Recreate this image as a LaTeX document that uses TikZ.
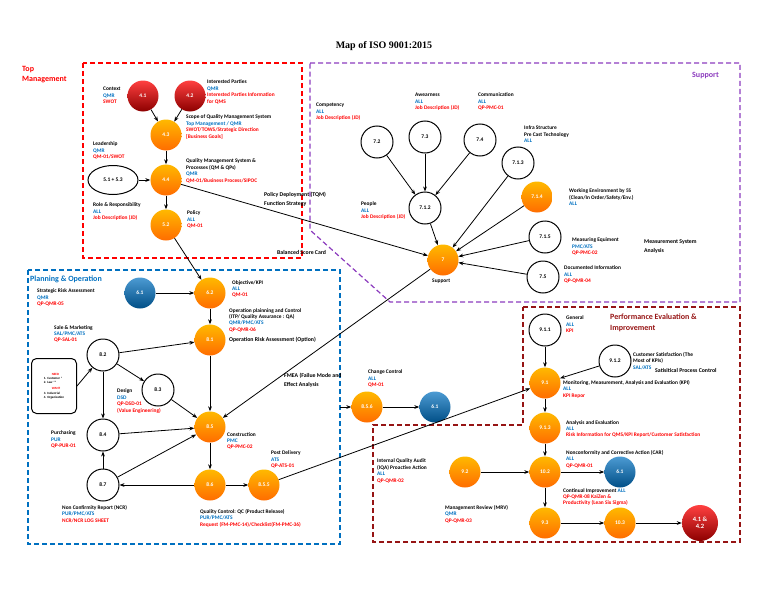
\documentclass[tikz,border=0pt]{standalone}
\usepackage{fontspec}
\setmainfont{Carlito}
\newfontfamily\ttlfont{Liberation Serif}
\usetikzlibrary{arrows.meta,shapes.geometric}
\definecolor{tb}{RGB}{0,112,192}
\definecolor{dr}{RGB}{150,20,20}
\definecolor{pu}{RGB}{140,60,190}
\newcommand{\B}[1]{\textcolor{tb}{#1}}
\newcommand{\R}[1]{\textcolor{red}{#1}}
\begin{document}
\begin{tikzpicture}[x=1pt,y=-1pt,
 lbl/.style={anchor=north west,align=left,inner sep=0,font=\fontsize{5.4}{6.4}\selectfont\bfseries},
 ball/.style={circle,minimum size=31,inner sep=0,text=white,font=\fontsize{5.5}{6}\selectfont\bfseries},
 org/.style={ball,top color=orange!55!yellow,bottom color=orange!85!red},
 rd/.style={ball,top color=red!75,bottom color=red!55!black},
 bl/.style={ball,top color=tb!70,bottom color=tb!70!black},
 wh/.style={circle,draw,line width=1pt,minimum size=32,inner sep=0,font=\fontsize{5.5}{6}\selectfont\bfseries},
 ar/.style={-{Stealth[length=5pt]},line width=0.8pt},
 ln/.style={line width=0.8pt}]
\useasboundingbox (0,0) rectangle (768,594);
\node[font=\fontsize{10}{11}\selectfont\bfseries\ttlfont] (title) at (384,46) {Map of ISO 9001:2015};
% boxes
\draw[red,dashed,line width=1.2pt,dash pattern=on 5pt off 3pt] (83,63) rectangle (302,258);
\draw[pu,line width=1.2pt,dash pattern=on 5pt off 3pt] (310,63) -- (740,63) -- (740,302) -- (390,302) -- (310,230) -- cycle;
\draw[tb,line width=1.2pt,dash pattern=on 5pt off 3pt] (28,270) rectangle (340,544);
\draw[dr,line width=1.2pt,dash pattern=on 5pt off 3pt] (523,307) -- (740,307) -- (740,542) -- (373,542) -- (373,425) -- (523,425) -- cycle;
\node[lbl,red,font=\fontsize{8}{10}\selectfont\bfseries] (tm) at (22,66) {Top\\Management};
\node[lbl,pu,font=\fontsize{8}{10}\selectfont\bfseries] (sup) at (692,72) {Support};
\node[lbl,tb,font=\fontsize{8}{10}\selectfont\bfseries] (po) at (30,276) {Planning \& Operation};
\node[lbl,dr,font=\fontsize{8}{11}\selectfont\bfseries] (pe) at (610,314) {Performance Evaluation \&\\Improvement};
% top management nodes
\node[rd] (n41) at (143,96) {4.1};
\node[rd] (n42) at (190,96) {4.2};
\node[org] (n43) at (166,135) {4.3};
\node[org] (n44) at (166,180) {4.4};
\node[draw,ellipse,line width=1pt,minimum width=50,minimum height=29,inner sep=0,font=\fontsize{5.5}{6}\selectfont\bfseries] (n51) at (113,180) {5.1 + 5.3};
\node[org] (n52) at (166,225) {5.2};
% support
\node[wh] (n72) at (377,142) {7.2};
\node[wh] (n73) at (425,137) {7.3};
\node[wh] (n74) at (480,140) {7.4};
\node[wh] (n713) at (518,163) {7.1.3};
\node[org] (n714) at (537,197) {7.1.4};
\node[wh] (n712) at (425,208) {7.1.2};
\node[wh] (n715) at (545,237) {7.1.5};
\node[org] (n7) at (443,260) {7};
\node[wh] (n75) at (543,277) {7.5};
% planning
\node[bl] (n61) at (140,293) {6.1};
\node[org] (n62) at (210,293) {6.2};
\node[org] (n81) at (210,340) {8.1};
\node[wh] (n82) at (103,355) {8.2};
\node[wh] (n83) at (158,390) {8.3};
\node[wh] (n84) at (103,435) {8.4};
\node[org] (n85) at (210,427) {8.5};
\node[org] (n86) at (210,485) {8.6};
\node[org] (n855) at (264,485) {8.5.5};
\node[wh] (n87) at (103,485) {8.7};
\node[draw,rounded corners=5pt,line width=1pt,minimum width=45,minimum height=55,align=left,font=\fontsize{3.2}{4.2}\selectfont\bfseries] (need) at (54,386) {\hspace*{8pt}\R{NEED}\\1. Customer *\\2. Law **\\[2pt]\hspace*{8pt}\R{WANT}\\3. Industrial\\4. Organization};
\node[org] (n856) at (367,407) {8.5.6};
\node[bl] (n61b) at (435,407) {6.1};
\coordinate (bx) at (340,407);
% performance
\node[wh] (n911) at (545,330) {9.1.1};
\node[wh] (n912) at (615,361) {9.1.2};
\node[org] (n91) at (545,383) {9.1};
\node[org] (n913) at (545,428) {9.1.3};
\node[org] (n102) at (545,472) {10.2};
\node[bl] (n61c) at (620,472) {6.1};
\node[org] (n92) at (465,472) {9.2};
\node[org] (n93) at (545,523) {9.3};
\node[org] (n103) at (620,523) {10.3};
\node[rd,minimum size=36,align=center,font=\fontsize{6.5}{7.5}\selectfont\bfseries] (n4142) at (700,523) {4.1 \&\\4.2};
% edges
\draw[ar] (n41)--(n43); \draw[ar] (n42)--(n43); \draw[ar] (n43)--(n44);
\draw[ar] (n51)--(n44); \draw[ar] (n44)--(n52);
\draw[ar] (n44)--(n7); \draw[ar] (n52)--(n62);
\draw[ar] (n72)--(n712); \draw[ar] (n73)--(n712); \draw[ar] (n74)--(n712);
\draw[ar] (n712)--(n7); \draw[ar] (n713)--(n7); \draw[ar] (n714)--(n7); \draw[ar] (n715)--(n7); \draw[ar] (n75)--(n7);
\draw[ar] (n7)--(n85);
\draw[ar] (n61)--(n62); \draw[ar] (n62)--(n81); \draw[ar] (n82)--(n81); \draw[ar] (n82)--(n83);
\draw[ar] (n82)--(n84); \draw[ar] (need.east)--(n82); \draw[ar] (n83)--(n85); \draw[ar] (n81)--(n85);
\draw[ar] (n84)--(n85); \draw[ar] (n87)--(n85); \draw[ar] (n87)--(n84); \draw[ar] (n85)--(n86);
\draw[ar] (n86)--(n87); \draw[ar] (n86)--(n855); \draw[ar] (n855)--(n91);
\draw[ar] (bx)--(n856); \draw[ar] (n856)--(n61b);
\draw[ar] (n911)--(n91); \draw[ar] (n912)--(n91); \draw[ar] (n91)--(n913); \draw[ar] (n913)--(n102);
\draw[ar] (n92)--(n102); \draw[ar] (n102)--(n61c); \draw[ar] (n102)--(n93); \draw[ar] (n93)--(n103); \draw[ar] (n103)--(n4142);
% labels
\node[lbl] (l1) at (103,87) {Context\\\B{QMR}\\\R{SWOT}};
\node[lbl] (l2) at (207,80) {Interested Parties\\\B{QMR}\\\R{Interested Parties Information}\\\R{for QMS}};
\node[lbl] (l3) at (186,115) {Scope of Quality Management System\\\B{Top Management / QMR}\\\R{SWOT/TOWS/Strategic Direction}\\\R{[Business Goals]}};
\node[lbl] (l4) at (93,142) {Leadership\\\B{QMR}\\\R{QM-01/SWOT}};
\node[lbl] (l5) at (186,159) {Quality Management System \&\\Processes (QM \& QPs)\\\B{QMR}\\\R{QM-01/Business Process/SIPOC}};
\node[lbl] (l6) at (93,203) {Role \& Responsibility\\\B{ALL}\\\R{Job Description (JD)}};
\node[lbl] (l7) at (187,211) {Policy\\\B{ALL}\\\R{QM-01}};
\node[lbl,font=\fontsize{5.8}{9}\selectfont\bfseries] (l8) at (264,192) {Policy Deployment (TQM)\\Function Strategy};
\node[lbl,font=\fontsize{5.8}{7}\selectfont\bfseries] (l9) at (277,250) {Balanced Score Card};
\node[lbl] (l10) at (316,103) {Competency\\\B{ALL}\\\R{Job Description (JD)}};
\node[lbl] (l11) at (415,93) {Awearness\\\B{ALL}\\\R{Job Description (JD)}};
\node[lbl] (l12) at (478,93) {Communication\\\B{ALL}\\\R{QP-PMC-01}};
\node[lbl] (l13) at (524,126) {Infra Structure\\Pre Cast Technology\\\B{ALL}};
\node[lbl] (l14) at (361,202) {People\\\B{ALL}\\\R{Job Description (JD)}};
\node[lbl] (l15) at (569,189) {Working Environment by 5S\\(Clean/In Order/Safety/Env.)\\\B{ALL}};
\node[lbl] (l16) at (572,238) {Measuring Equiment\\\B{PMC/ATS}\\\R{QP-PMC-02}};
\node[lbl,font=\fontsize{5.8}{9}\selectfont\bfseries] (l17) at (644,239) {Measurement System\\Analysis};
\node[lbl] (l18) at (564,266) {Documented Information\\\B{ALL}\\\R{QP-QMR-04}};
\node[lbl] (l19) at (432,279) {Support};
\node[lbl] (l20) at (37,289) {Strategic Risk Assessment\\\B{QMR}\\\R{QP-QMR-05}};
\node[lbl] (l21) at (232,280) {Objective/KPI\\\B{ALL}\\\R{QM-01}};
\node[lbl] (l22) at (229,308) {Operation plainning and Control\\(ITP/ Quality Assurance : QA)\\\B{QMR/PMC/ATS}\\\R{QP-QMR-06}};
\node[lbl,font=\fontsize{5.8}{7}\selectfont\bfseries] (l23) at (229,337) {Operation Risk Assessment (Option)};
\node[lbl] (l24) at (54,325) {Sale \& Marketing\\\B{SAL/PMC/ATS}\\\R{QP-SAL-01}};
\node[lbl] (l25) at (117,389) {Design\\\B{DSD}\\\R{QP-DSD-01}\\\R{(Value Engineering)}};
\node[lbl] (l26) at (51,431) {Purchasing\\\B{PUR}\\\R{QP-PUR-01}};
\node[lbl] (l27) at (227,432) {Construction\\\B{PMC}\\\R{QP-PMC-02}};
\node[lbl] (l28) at (271,451) {Post Delivery\\\B{ATS}\\\R{QP-ATS-01}};
\node[lbl] (l29) at (62,505) {Non Confirmity Report (NCR)\\\B{PUR/PMC/ATS}\\\R{NCR/NCR LOG SHEET}};
\node[lbl] (l30) at (200,509) {Quality Control: QC (Product Release)\\\B{PUR/PMC/ATS}\\\R{Request (FM-PMC-14)/Checklist(FM-PMC-36)}};
\node[lbl,font=\fontsize{5.8}{9}\selectfont\bfseries] (l31) at (284,373) {FMEA (Failue Mode and\\Effect Analysis};
\node[lbl] (l32) at (368,370) {Change Control\\\B{ALL}\\\R{QM-01}};
\node[lbl] (l33) at (566,316) {General\\\B{ALL}\\\R{KPI}};
\node[lbl] (l34) at (633,352) {Customer Satisfaction (The\\Most of KPIs)\\\B{SAL/ATS}};
\node[lbl] (l35) at (563,380) {Monitoring, Measurement, Analysis and Evaluation (KPI)\\\B{ALL}\\\R{KPI Repor}};
\node[lbl,font=\fontsize{5.8}{7}\selectfont\bfseries] (l36) at (655,368) {Satisitical Process Control};
\node[lbl] (l37) at (566,420) {Analysis and Evaluation\\\B{ALL}\\\R{Risk Information for QMS/KPI Report/Customer Satisfaction}};
\node[lbl] (l38) at (566,450) {Nonconformity and Corrective Action (CAR)\\\B{ALL}\\\R{QP-QMR-01}};
\node[lbl] (l39) at (563,488) {Continual Improvement \B{ALL}\\\R{QP-QMR-08 KaiZen \&}\\\R{Productivity (Lean Six Sigma)}};
\node[lbl] (l40) at (377,459) {Internal Quality Audit\\(IQA) Proactive Action\\\B{ALL}\\\R{QP-QMR-02}};
\node[lbl] (l41) at (445,505) {Management Review (MRV)\\\B{QMR}\\\R{QP-QMR-03}};
\end{tikzpicture}
\end{document}
